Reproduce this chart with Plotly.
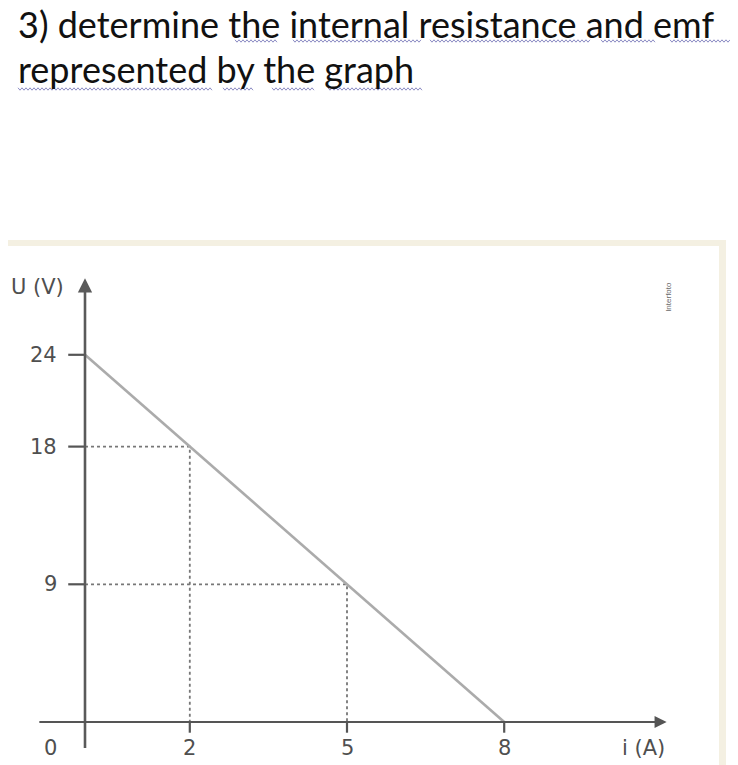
import plotly.graph_objects as go

# U-I characteristic of the source
current = [0, 2, 5, 8]          # i (A)
voltage = [24, 18, 9, 0]        # U (V)
x_ticks = [2, 5, 8]
y_ticks = [9, 18, 24]

title_lines = ["3) determine the internal resistance and emf",
               "represented by the graph"]

# the page body has an 8px margin, so the figure is made smaller
# and every window-pixel position below is shifted by it
OFF = 8
W, H = 738 - OFF, 765 - OFF
# window pixel position of the origin and pixels per unit
ox, oy = 85 - OFF, 722 - OFF
sx, sy = 52.4, 15.3

axis_col = '#555555'
lab_font = dict(family='DejaVu Sans', size=21, color='#4f4f4f')


def px(xp, yp):
    # window pixel -> paper coords
    return (xp - OFF) / W, 1 - (yp - OFF) / H


def squiggle(x0, x1, y):
    pts = []
    xp = x0
    up = True
    while xp <= x1:
        pts.append(px(xp, y - 1.2 if up else y + 1.2))
        up = not up
        xp += 2
    return 'M ' + ' L '.join('%.5f %.5f' % p for p in pts)


fig = go.Figure()

# dotted guides from the marked points to the axes
gx, gy = [], []
for i, u in zip(current[1:3], voltage[1:3]):
    gx += [0, i, i, None]
    gy += [u, u, 0, None]
fig.add_trace(go.Scatter(x=gx, y=gy, mode='lines', hoverinfo='skip',
                         line=dict(color='#777777', width=1.8, dash='dot')))

# the characteristic itself
fig.add_trace(go.Scatter(x=current, y=voltage, mode='lines',
                         line=dict(color='#ababab', width=2.6)))

# tick marks
tx, ty = [], []
for v in y_ticks:
    tx += [-0.32, 0, None]
    ty += [v, v, None]
for v in x_ticks:
    tx += [v, v, None]
    ty += [0, -0.7, None]
fig.add_trace(go.Scatter(x=tx, y=ty, mode='lines', hoverinfo='skip',
                         line=dict(color=axis_col, width=2.2)))

ann = []
# axes with arrowheads
ann.append(dict(x=0, y=29.0, ax=0, ay=-1.8, xref='x', yref='y', axref='x', ayref='y',
                showarrow=True, arrowhead=2, arrowsize=1.1, arrowwidth=2.6,
                arrowcolor='#5a5a5a', text=''))
ann.append(dict(x=11.1, y=0, ax=-0.9, ay=0, xref='x', yref='y', axref='x', ayref='y',
                showarrow=True, arrowhead=2, arrowsize=1.1, arrowwidth=2.2,
                arrowcolor=axis_col, text=''))

for v in y_ticks:
    ann.append(dict(x=-0.5, y=v, xref='x', yref='y', text=str(v), showarrow=False,
                    xanchor='right', yanchor='middle', font=lab_font))
ann.append(dict(x=-0.5, y=-1.7, xref='x', yref='y', text='0', showarrow=False,
                xanchor='right', yanchor='middle', font=lab_font))
for v in x_ticks:
    ann.append(dict(x=v, y=-1.7, xref='x', yref='y', text=str(v), showarrow=False,
                    xanchor='center', yanchor='middle', font=lab_font))
ann.append(dict(x=10.65, y=-1.7, xref='x', yref='y', text='i (A)', showarrow=False,
                xanchor='center', yanchor='middle', font=lab_font))
ann.append(dict(x=-0.9, y=28.4, xref='x', yref='y', text='U (V)', showarrow=False,
                xanchor='center', yanchor='middle', font=lab_font))
# faint watermark on the right
ann.append(dict(x=11.13, y=27.8, xref='x', yref='y', text='Interfoto', showarrow=False,
                textangle=-90, font=dict(family='Liberation Sans', size=8, color='#6a6a6a')))

# question text
for k, line in enumerate(title_lines):
    xx, yy = px(16, 24 + 45 * k)
    ann.append(dict(x=xx, y=yy, xref='paper', yref='paper', text=line, showarrow=False,
                    xanchor='left', yanchor='middle',
                    font=dict(family='Lato, Carlito, Open Sans', size=36, color='#111111')))

shapes = []
# spell-check underlines
spans = [(235, 277, 41), (293, 421, 41), (430, 591, 41), (601, 655, 41), (670, 730, 41),
         (18, 213, 89), (223, 253, 89), (272, 315, 89), (328, 423, 89)]
for x0, x1, y in spans:
    shapes.append(dict(type='path', xref='paper', yref='paper', path=squiggle(x0, x1, y),
                       line=dict(color='#8c8cc4', width=1)))
# beige frame of the pasted picture
x0, y0 = px(0, 240)
x1, y1 = px(726, 246)
shapes.append(dict(type='rect', xref='paper', yref='paper', x0=x0, x1=x1, y0=y1, y1=y0,
                   fillcolor='#f4f0e2', line=dict(width=0), layer='below'))
x0, y0 = px(719, 240)
x1, y1 = px(726, 765)
shapes.append(dict(type='rect', xref='paper', yref='paper', x0=x0, x1=x1, y0=y1, y1=y0,
                   fillcolor='#f4f0e2', line=dict(width=0), layer='below'))

fig.update_layout(
    width=W, height=H,
    margin=dict(l=0, r=0, t=0, b=0),
    paper_bgcolor='white', plot_bgcolor='white',
    showlegend=False,
    xaxis=dict(range=[-ox / sx, (W - ox) / sx], visible=False, fixedrange=True),
    yaxis=dict(range=[(oy - H) / sy, oy / sy], visible=False, fixedrange=True),
    annotations=ann,
    shapes=shapes,
)

fig.write_html("out.html")
